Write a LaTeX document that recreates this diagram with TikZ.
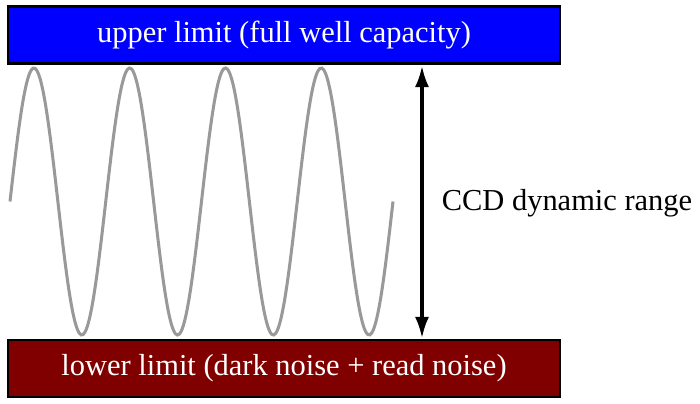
\documentclass[tikz,border=0pt]{standalone}
\usepackage{fontspec}
\setmainfont{Liberation Serif}
\usetikzlibrary{positioning,arrows.meta}
\tikzset{limitbox/.style={draw=black, line width=1.2pt, minimum width=552*0.015cm,
    minimum height=57*0.015cm, text=white, font=\fontsize{13}{15}\selectfont}}
\begin{document}
\begin{tikzpicture}[x=0.015cm, y=-0.015cm]
            \useasboundingbox (0,0) rectangle (700,404);
            % limits
            \node [limitbox, fill=blue] (upper) at (284,35) {upper limit (full well capacity)};
            \node [limitbox, fill=red!50!black] (lower) at (284,368.5) {lower limit (dark noise + read noise)};
            % signal
            \draw [gray!80, line width=1.3pt, domain=10:393, samples=200, smooth]
                plot ({\x},{201.5-133.5*sin((\x-10)/95.75*360)});
            % range
            \coordinate (top) at (422,66);
            \coordinate (bottom) at (422,338);
            \draw [line width=1.3pt, {Latex[length=9pt,width=6pt]}-{Latex[length=9pt,width=6pt]}] (top) -- (bottom);
            \node [font=\fontsize{13}{15}\selectfont] (range) at (567,203) {CCD dynamic range};
            \end{tikzpicture}
\end{document}
